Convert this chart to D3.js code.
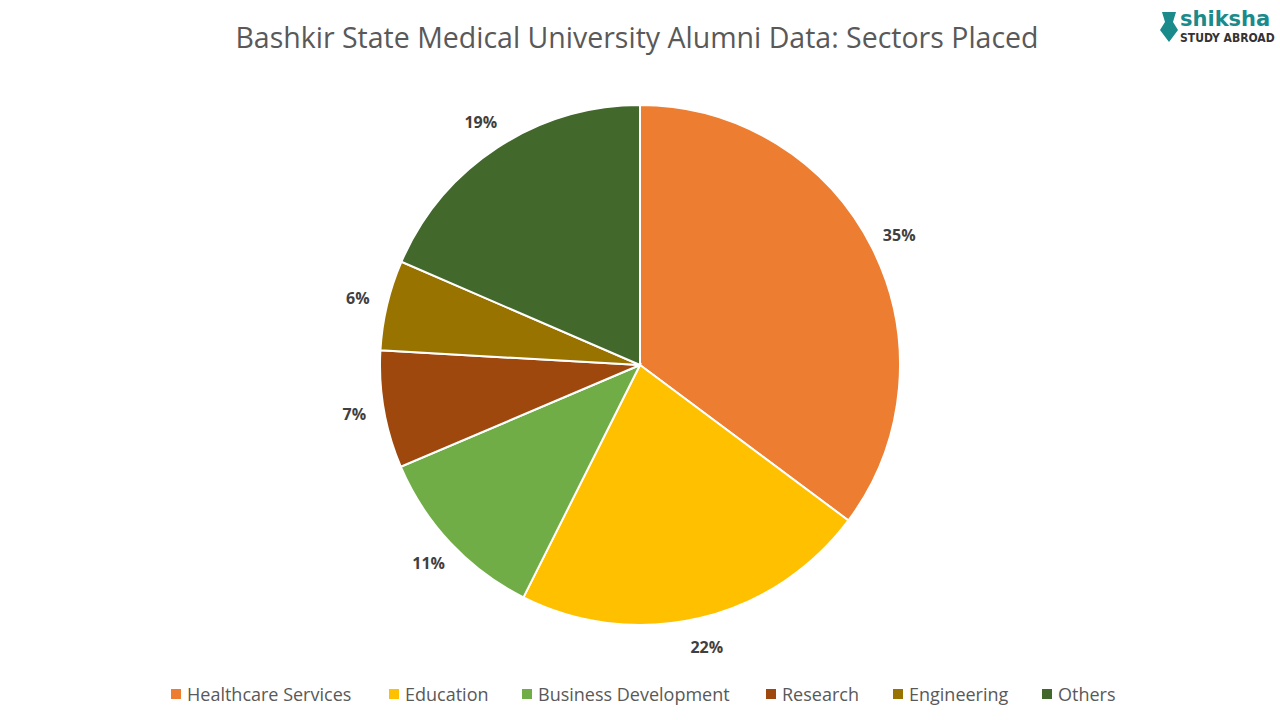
<!DOCTYPE html><html><head><meta charset="utf-8"><script src="https://cdn.jsdelivr.net/npm/d3@7"></script>
<style>body{margin:0;background:#fff}</style></head><body><svg id="c" width="1280" height="720"></svg>
<script>
const categories=["Healthcare Services","Education","Business Development","Research","Engineering","Others"];
const values=[35.2,22.2,11.2,7.3,5.6,18.5];
const labels=["35%","22%","11%","7%","6%","19%"];
const colors=["#ED7D31","#FFC000","#70AD47","#9E480E","#997300","#43682B"];
const svg=d3.select("#c");
const f="'Open Sans', sans-serif";
svg.append("text").attr("x",637).attr("y",48).attr("text-anchor","middle").attr("font-family",f).attr("font-size",28.5).attr("fill","#595959").text("Bashkir State Medical University Alumni Data: Sectors Placed");
const g=svg.append("g").attr("transform","translate(640,365)");
const pie=d3.pie().sort(null).value(d=>d)(values);
const arc=d3.arc().innerRadius(0).outerRadius(260);
const la=d3.arc().innerRadius(290).outerRadius(290);
g.selectAll("path").data(pie).enter().append("path").attr("d",arc).attr("fill",(d,i)=>colors[i]).attr("stroke","#fff").attr("stroke-width",2);
g.selectAll("text").data(pie).enter().append("text").attr("transform",d=>`translate(${la.centroid(d)})`).attr("text-anchor","middle").attr("dy","0.35em").attr("font-family",f).attr("font-weight","bold").attr("font-size",16).attr("fill","#404040").text((d,i)=>labels[i]);
const lg=svg.append("g").attr("font-family",f).attr("font-size",18).attr("fill","#595959");
const xs=[171,389,522,766,893,1042];
categories.forEach((c,i)=>{lg.append("rect").attr("x",xs[i]).attr("y",689).attr("width",10).attr("height",10).attr("fill",colors[i]);
lg.append("text").attr("x",xs[i]+16).attr("y",701).text(c);});
const lo=svg.append("g");
lo.append("path").attr("d","M1162,12 L1176,12 L1173,22 L1178,30 L1169,42 L1160,30 L1165,22 Z").attr("fill","#1a8a8a");
lo.append("text").attr("x",1180).attr("y",26).attr("font-family","'DejaVu Sans',sans-serif").attr("font-weight","bold").attr("font-size",21).attr("fill","#1a8a8a").text("shiksha");
lo.append("text").attr("x",1180).attr("y",42).attr("font-family","'DejaVu Sans Condensed',sans-serif").attr("font-weight","bold").attr("font-size",12).attr("fill","#333").text("STUDY ABROAD");
</script></body></html>
